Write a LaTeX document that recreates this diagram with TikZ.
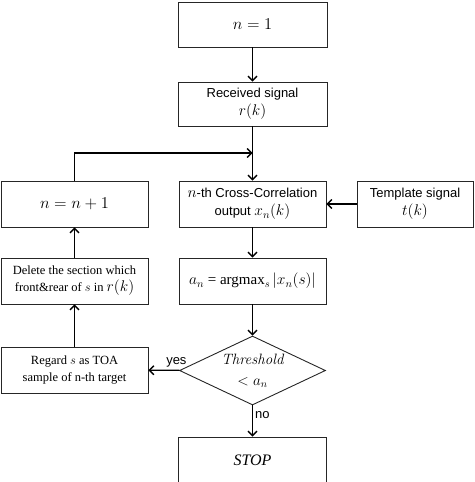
\documentclass[tikz,border=0pt]{standalone}
\usepackage{fix-cm}
\usepackage{amsmath}
\usepackage{fontspec}
\newfontfamily\sansf{Liberation Sans}
\newfontfamily\seriff{Liberation Serif}
\newcommand{\mth}[1]{{\fontsize{15.5}{18}\selectfont$#1$}}
\usepackage{tikz}
\usetikzlibrary{shapes.geometric, arrows.meta, positioning}
\tikzset{
  procblock/.style={
    rectangle, draw=black!85, line width=0.9pt, inner sep=0pt,
    minimum width=147pt, minimum height=46pt, align=center,
    font=\fontsize{13}{18}\selectfont\sansf
  },
  procdecision/.style={
    diamond, draw=black!85, line width=0.9pt, inner sep=0pt, aspect=2.1,
    minimum width=146pt, minimum height=69pt, align=center,
    font=\fontsize{15}{21}\selectfont
  },
  procarrow/.style={
    line width=1.3pt, -{Straight Barb[length=4.5pt,width=9pt]}
  },
  proclabel/.style={
    font=\fontsize{13}{15}\selectfont\sansf, inner sep=2pt
  }
}

\begin{document}
\begin{tikzpicture}[x=1pt, y=-1pt]
  \useasboundingbox (0,0) rectangle (474,482);
  % main column
  \node[procblock, minimum width=149pt, minimum height=45pt] (init) at (252.5,24.5) {\fontsize{16.5}{19}\selectfont $n = 1$};
  \node[procblock, minimum width=149pt, minimum height=44pt] (recv) at (252.5,104) {Received signal\\ \mth{r(k)}};
  \node[procblock] (xcorr) at (252.5,204) {\mth{n}-th Cross-Correlation\\ output \mth{x_n(k)}};
  \node[procblock, font=\fontsize{15}{18}\selectfont\seriff] (peak) at (252.5,281) {\mth{a_n} = argmax$_s$\,\mth{|x_n(s)|}};
  \node[procdecision] (thresh) at (252.5,370.5) {\itshape Threshold\\ $<a_n$};
  \node[procblock, font=\fontsize{16}{19}\selectfont\seriff\itshape, minimum width=148pt] (stop) at (252.5,460) {STOP};
  % side blocks
  \node[procblock, minimum width=116pt] (tmpl) at (415,204) {Template signal\\ \mth{t(k)}};
  \node[procblock] (incr) at (74.5,204) {\fontsize{16.5}{19}\selectfont $n = n + 1$};
  \node[procblock, font=\fontsize{12.5}{17}\selectfont\seriff] (delsec) at (74.5,281) {Delete the section which\\ front\&rear of $s$ in \mth{r(k)}};
  \node[procblock, font=\fontsize{12.5}{17}\selectfont\seriff] (regard) at (74.5,370) {Regard $s$ as TOA\\ sample of n-th target};
  \coordinate (merge) at (252.5,153);

  \draw[procarrow] (init) -- (recv);
  \draw[procarrow] (recv) -- (xcorr);
  \draw[procarrow] (tmpl) -- (xcorr);
  \draw[procarrow] (xcorr) -- (peak);
  \draw[procarrow] (peak) -- (thresh);
  \draw[procarrow] (thresh) -- node[proclabel, above, pos=0.1] {yes} (regard);
  \draw[procarrow] (thresh) -- node[proclabel, right, pos=0.3] {no} (stop);
  \draw[procarrow] (regard) -- (delsec);
  \draw[procarrow] (delsec) -- (incr);
  \draw[procarrow] (incr.north) |- (merge);
\end{tikzpicture}
\end{document}
